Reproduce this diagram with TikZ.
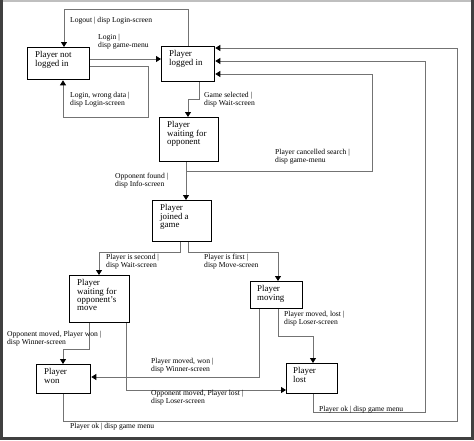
\documentclass[tikz,border=0pt]{standalone}
\usepackage{fontspec}
\setmainfont{Liberation Serif}
\usetikzlibrary{arrows.meta,calc}
\begin{document}
\begin{tikzpicture}[x=1pt,y=-1pt,
  stbox/.style={draw=black,line width=1.3pt,anchor=north west,inner sep=0pt},
  stext/.style={anchor=north west,align=left,inner sep=0pt,font=\fontsize{8.9}{8.3}\selectfont},
  conn/.style={draw=black!55,line width=0.8pt},
  arr/.style={conn,-{Triangle[length=5pt,width=6pt,color=black]}},
  lbl/.style={anchor=west,align=left,inner sep=0pt,font=\fontsize{7.6}{6.8}\selectfont}]
\useasboundingbox (0,0) rectangle (474,440);
% frame
\fill[black!25] (0,0) rectangle (474,2);
\fill[black!75] (0,0) rectangle (3,440);
\fill[black!75] (0,437) rectangle (474,440);
\fill[black!75] (471,0) rectangle (474,440);
% boxes
\node[stbox,minimum width=62pt,minimum height=32pt] (nl) at (27,47) {};
\node[stbox,minimum width=53pt,minimum height=35pt] (li) at (161,46) {};
\node[stbox,minimum width=59pt,minimum height=44pt] (wo) at (159,117) {};
\node[stbox,minimum width=59pt,minimum height=41pt] (jg) at (152,200) {};
\node[stbox,minimum width=60pt,minimum height=47pt] (wm) at (69,275) {};
\node[stbox,minimum width=52pt,minimum height=27pt] (mv) at (250,281) {};
\node[stbox,minimum width=54pt,minimum height=29pt] (won) at (36,364) {};
\node[stbox,minimum width=51pt,minimum height=30pt] (lost) at (286,363) {};
% box texts
\node[stext] (nlT) at ([shift={(8pt,-4.5pt)}]nl.north west) {Player not\\logged in};
\node[stext] (liT) at ([shift={(8pt,-4.5pt)}]li.north west) {Player\\logged in};
\node[stext] (woT) at ([shift={(8pt,-4.5pt)}]wo.north west) {Player\\waiting for\\opponent};
\node[stext] (jgT) at ([shift={(8pt,-4.5pt)}]jg.north west) {Player\\joined a\\game};
\node[stext] (wmT) at ([shift={(8pt,-4.5pt)}]wm.north west) {Player\\waiting for\\opponent's\\move};
\node[stext] (mvT) at ([shift={(7pt,-4.5pt)}]mv.north west) {Player\\moving};
\node[stext] (wonT) at ([shift={(8pt,-4.5pt)}]won.north west) {Player\\won};
\node[stext] (lostT) at ([shift={(7pt,-4.5pt)}]lost.north west) {Player\\lost};
% connectors
\draw[arr] (li.north -| 188,0) -- (188,9) -| (nl.north -| 64,0);
\draw[arr] (nl.east |- 0,59) -- (li.west |- 0,59);
\draw[arr] (nl.east |- 0,66) -| (148,117) -| (nl.south -| 63,0);
\draw[arr] (li.south -| 199,0) |- (188,99) -- (wo.north -| 188,0);
\draw[arr] (wo.south -| 186,0) |- (372,171) |- (li.east |- 0,74);
\draw[arr] (wo.south -| 186,0) -- (jg.north -| 186,0);
\draw[arr] (jg.south -| 180,0) |- (99,252) -- (wm.north -| 99,0);
\draw[arr] (jg.south -| 188,0) |- (278,252) -- (mv.north -| 278,0);
\draw[arr] (mv.south -| 259,0) |- (won.east |- 0,377);
\draw[arr] (mv.south -| 278,0) |- (313,336) -- (lost.north -| 313,0);
\draw[arr] (wm.south -| 89,0) |- (63,349) -- (won.north -| 63,0);
\draw[arr] (wm.south -| 126,0) |- (lost.west |- 0,390);
\draw[arr] (won.south -| 63,0) |- (457,421) |- (li.east |- 0,48);
\draw[arr] (lost.south -| 313,0) |- (425,412) |- (li.east |- 0,61);
% labels
\node[lbl] (l1) at (70,21) {Logout | disp Login-screen};
\node[lbl] (l2) at (98,41.5) {Login |\\disp game-menu};
\node[lbl] (l3) at (70,100) {Login, wrong data |\\disp Login-screen};
\node[lbl] (l4) at (204,100) {Game selected |\\disp Wait-screen};
\node[lbl] (l5) at (275,156.5) {Player cancelled search |\\disp game-menu};
\node[lbl] (l6) at (115,181) {Opponent found |\\disp Info-screen};
\node[lbl] (l7) at (106,261.5) {Player is second |\\disp Wait-screen};
\node[lbl] (l8) at (204,261.5) {Player is first |\\disp Move-screen};
\node[lbl] (l9) at (151,366) {Player moved, won |\\disp Winner-screen};
\node[lbl] (l10) at (284,319) {Player moved, lost |\\disp Loser-screen};
\node[lbl] (l11) at (7,338.5) {Opponent moved, Player won |\\disp Winner-screen};
\node[lbl] (l12) at (151,397.5) {Opponent moved, Player lost |\\disp Loser-screen};
\node[lbl] (l13) at (70,427) {Player ok | disp game menu};
\node[lbl] (l14) at (319,409.5) {Player ok | disp game menu};
\end{tikzpicture}
\end{document}
